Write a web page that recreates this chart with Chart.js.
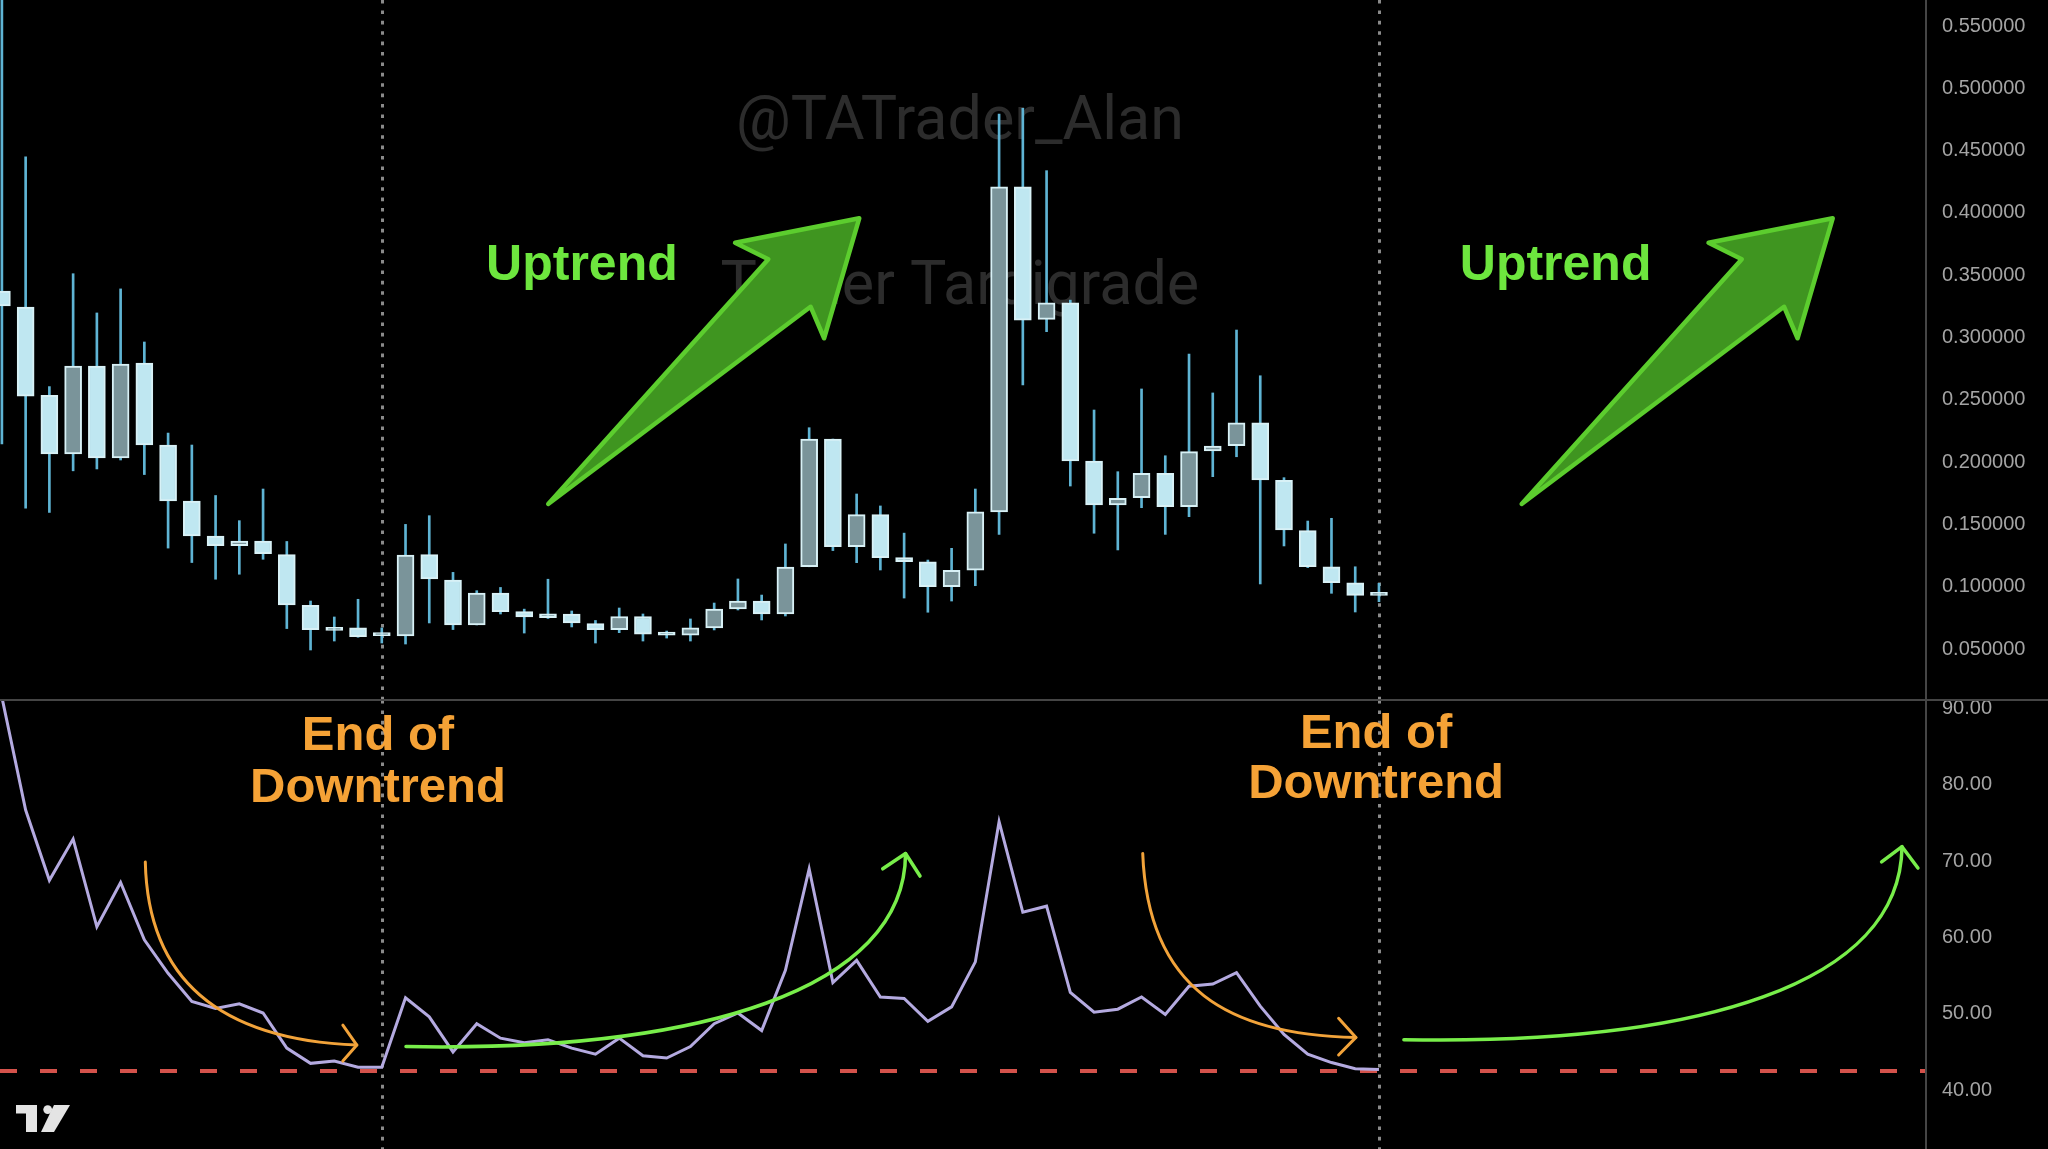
<!DOCTYPE html>
<html>
<head>
<meta charset="utf-8">
<script src="https://cdn.jsdelivr.net/npm/chart.js@4.4.1/dist/chart.umd.min.js"></script>
<style>
  html, body { margin:0; padding:0; background:#000; overflow:hidden; }
  #wrap { position:relative; width:2048px; height:1149px; background:#000; }
  #pricePane { position:absolute; left:0; top:0; width:2048px; height:700px; }
  #rsiPane { position:absolute; left:0; top:700px; width:2048px; height:449px; }
  .sep { position:absolute; left:0; top:699px; width:2048px; height:2px; background:#454545; }
  .axisLine { position:absolute; left:1925px; top:0; width:2px; height:1149px; background:#454545; }
</style>
</head>
<body>
<div id="wrap">
  <div id="pricePane"><canvas id="priceChart" width="2048" height="700"></canvas></div>
  <div id="rsiPane"><canvas id="rsiChart" width="2048" height="449"></canvas></div>
  <div class="sep"></div>
  <div class="axisLine"></div>
</div>
<script>
'use strict';

// --- candles, one entry per bar (index = position) ---
const opens  = [0.3373,0.3245,0.2535,0.2065,0.2770,0.2033,0.2795,0.2137,0.1688,0.1407,
                0.1330,0.1367,0.1258,0.0850,0.0671,0.0669,0.0612,0.0604,0.1258,0.1054,
                0.0693,0.0949,0.0800,0.0783,0.0781,0.0704,0.0656,0.0761,0.0628,0.0612,
                0.0669,0.0821,0.0885,0.0781,0.1160,0.2185,0.1321,0.1578,0.1233,0.1200,
                0.1000,0.1132,0.1600,0.4210,0.3146,0.3279,0.2009,0.1656,0.1714,0.1910,
                0.1642,0.2089,0.2132,0.2316,0.1854,0.1450,0.1160,0.1032,0.0935];
const highs  = [0.6000,0.4450,0.2606,0.3512,0.3197,0.3390,0.2964,0.2233,0.2137,0.1732,
                0.1530,0.1784,0.1363,0.0885,0.0757,0.0899,0.0669,0.1500,0.1570,0.1115,
                0.0968,0.0994,0.0820,0.1060,0.0805,0.0729,0.0829,0.0781,0.0644,0.0741,
                0.0869,0.1062,0.0933,0.1343,0.2276,0.2185,0.1744,0.1648,0.1430,0.1214,
                0.1308,0.1784,0.4794,0.4840,0.4339,0.3300,0.2418,0.1923,0.2587,0.2051,
                0.2867,0.2555,0.3060,0.2693,0.1875,0.1527,0.1549,0.1160,0.1027];
const lows   = [0.2145,0.1630,0.1596,0.1930,0.1945,0.2017,0.1900,0.1310,0.1194,0.1060,
                0.1100,0.1220,0.0664,0.0492,0.0564,0.0594,0.0548,0.0540,0.0709,0.0656,
                0.0693,0.0781,0.0628,0.0745,0.0677,0.0548,0.0631,0.0564,0.0588,0.0564,
                0.0653,0.0813,0.0733,0.0765,0.1160,0.1290,0.1193,0.1134,0.0909,0.0795,
                0.0885,0.1008,0.1420,0.2619,0.3047,0.1808,0.1429,0.1295,0.1634,0.1420,
                0.1562,0.1883,0.2043,0.1022,0.1327,0.1153,0.0947,0.0797,0.0880];
const closes = [0.3253,0.2530,0.2065,0.2771,0.2033,0.2787,0.2137,0.1688,0.1407,0.1330,
                0.1367,0.1266,0.0853,0.0656,0.0650,0.0598,0.0607,0.1254,0.1062,0.0693,
                0.0949,0.0800,0.0757,0.0751,0.0709,0.0656,0.0761,0.0620,0.0612,0.0669,
                0.0821,0.0885,0.0781,0.1158,0.2185,0.1321,0.1578,0.1233,0.1200,0.1000,
                0.1132,0.1600,0.4210,0.3140,0.3279,0.2009,0.1656,0.1709,0.1910,0.1642,
                0.2084,0.2129,0.2316,0.1856,0.1455,0.1160,0.1032,0.0931,0.0930];

// --- RSI, same bars ---
const rsiValues = [91.5,76.7,67.5,72.9,61.4,67.2,59.7,55.3,51.6,50.7,
                   51.3,50.1,45.5,43.5,43.8,43.0,43.0,52.1,49.6,45.0,
                   48.7,46.8,46.2,46.6,45.5,44.7,46.8,44.5,44.2,45.7,
                   48.7,50.1,47.8,55.7,69.0,54.1,57.0,52.2,52.0,49.0,
                   50.9,56.8,75.2,63.3,64.1,52.8,50.2,50.6,52.2,49.9,
                   53.6,53.9,55.4,51.0,47.3,44.7,43.6,42.8,42.7];
const rsiFloor = 42.5;

const priceTicks = [0.05,0.10,0.15,0.20,0.25,0.30,0.35,0.40,0.45,0.50,0.55];
const rsiTicks   = [40,50,60,70,80,90];

// bars marked with the dotted verticals
const markerBars = [16, 58];

// annotations, in data units (bar index, price / rsi)
const watermarks = [
  { text:'@TATrader_Alan',     x:40.35, y:0.4595 },
  { text:'Trader Tardigrade',  x:40.35, y:0.3265 },
];
const uptrendLabels = [
  { text:'Uptrend', x:24.43, y:0.3461 },
  { text:'Uptrend', x:65.44, y:0.3461 },
];
const bigArrow = [[23.01,0.1664],[32.28,0.3628],[30.88,0.3761],[36.11,0.3957],[34.63,0.2994],[34.06,0.3247]];
const bigArrowShifts = [0, 41];

const downLabels = [
  { x:15.84, lines:[['End of',84.57],['Downtrend',77.76]] },
  { x:57.88, lines:[['End of',84.83],['Downtrend',78.28]] },
];
// cubic curves: start, ctrl1, ctrl2, end, then the two head wings
const orangeCurves = [
  [[6.04,69.9],[6.15,54.4],[9.18,46.6],[14.95,45.9],[14.36,48.5],[14.36,43.8]],
  [[48.05,71.0],[48.27,53.1],[51.73,47.2],[57.03,46.9],[56.30,49.4],[56.30,44.6]],
];
const greenCurves = [
  [[17.02,45.7],[29.4,45.0],[38.04,53.1],[38.06,71.0],[37.10,69.0],[38.67,68.05]],
  [[59.05,46.6],[71.5,45.9],[79.95,53.8],[80.03,71.9],[79.17,69.9],[80.70,69.1]],
];

const X_MIN = -0.08, X_MAX = 81.04;

function drawMarkers(chart) {
  const { ctx, chartArea:a, scales:{ x } } = chart;
  ctx.save();
  ctx.strokeStyle = '#8a8a8a';
  ctx.lineWidth = 3;
  ctx.setLineDash([3.6, 6.8]);
  markerBars.forEach(b => {
    const px = Math.round(x.getPixelForValue(b)) + 0.5;
    ctx.beginPath(); ctx.moveTo(px, a.top); ctx.lineTo(px, a.bottom); ctx.stroke();
  });
  ctx.restore();
}

const pricePlugin = {
  id: 'priceDecor',
  beforeDatasetsDraw(chart) {
    const { ctx, scales:{ x, y } } = chart;
    ctx.save();
    ctx.fillStyle = '#2c2c2c';
    ctx.font = '400 61px Roboto';
    ctx.textAlign = 'center';
    ctx.textBaseline = 'alphabetic';
    watermarks.forEach(w => ctx.fillText(w.text, x.getPixelForValue(w.x), y.getPixelForValue(w.y)));
    ctx.restore();
    drawMarkers(chart);
  },
  afterDatasetsDraw(chart) {
    const { ctx, scales:{ x, y } } = chart;
    ctx.save();
    bigArrowShifts.forEach(dx => {
      ctx.beginPath();
      bigArrow.forEach(([bx, by], i) => {
        const px = x.getPixelForValue(bx + dx), py = y.getPixelForValue(by);
        if (i === 0) ctx.moveTo(px, py); else ctx.lineTo(px, py);
      });
      ctx.closePath();
      ctx.fillStyle = '#3f9520';
      ctx.fill();
      ctx.lineJoin = 'round';
      ctx.lineWidth = 4.5;
      ctx.strokeStyle = '#5ccd2e';
      ctx.stroke();
    });
    ctx.fillStyle = '#6de63e';
    ctx.font = 'bold 50px "Liberation Sans", Arial';
    ctx.textAlign = 'center';
    uptrendLabels.forEach(l => ctx.fillText(l.text, x.getPixelForValue(l.x), y.getPixelForValue(l.y)));
    ctx.restore();
  }
};

function strokeCurve(ctx, x, y, c, color, width) {
  const p = c.map(([a, b]) => [x.getPixelForValue(a), y.getPixelForValue(b)]);
  ctx.strokeStyle = color;
  ctx.lineWidth = width;
  ctx.lineCap = 'round';
  ctx.lineJoin = 'round';
  ctx.beginPath();
  ctx.moveTo(p[0][0], p[0][1]);
  ctx.bezierCurveTo(p[1][0], p[1][1], p[2][0], p[2][1], p[3][0], p[3][1]);
  ctx.stroke();
  ctx.beginPath();
  ctx.moveTo(p[4][0], p[4][1]);
  ctx.lineTo(p[3][0], p[3][1]);
  ctx.lineTo(p[5][0], p[5][1]);
  ctx.stroke();
}

function drawLogo(ctx, left, bottom) {
  const ox = left + 16, oy = bottom - 44;
  ctx.fillStyle = '#e4e4e4';
  ctx.fillRect(ox, oy, 21, 8.5);
  ctx.fillRect(ox + 10, oy, 11, 27);
  ctx.beginPath(); ctx.arc(ox + 31.7, oy + 4.6, 4.4, 0, Math.PI * 2); ctx.fill();
  ctx.beginPath();
  ctx.moveTo(ox + 38, oy); ctx.lineTo(ox + 54, oy);
  ctx.lineTo(ox + 38, oy + 27); ctx.lineTo(ox + 25, oy + 27);
  ctx.closePath(); ctx.fill();
}

const rsiPlugin = {
  id: 'rsiDecor',
  beforeDatasetsDraw(chart) { drawMarkers(chart); },
  afterDatasetsDraw(chart) {
    const { ctx, chartArea:a, scales:{ x, y } } = chart;
    ctx.save();
    orangeCurves.forEach(c => strokeCurve(ctx, x, y, c, '#f2a33a', 3));
    greenCurves.forEach(c => strokeCurve(ctx, x, y, c, '#78ee4a', 3.5));
    ctx.fillStyle = '#f5a236';
    ctx.font = 'bold 49px "Liberation Sans", Arial';
    ctx.textAlign = 'center';
    downLabels.forEach(l => l.lines.forEach(([t, v]) =>
      ctx.fillText(t, x.getPixelForValue(l.x), y.getPixelForValue(v))));
    drawLogo(ctx, a.left, a.bottom);
    ctx.restore();
  }
};

const axisTicks = {
  color: '#a4a4a4',
  font: { family: '"Liberation Sans", Arial', size: 20 },
  padding: 16,
};

// right axis: fixed width, no extra padding so the plot fills the pane height
const fitAxis = s => { s.width = 122; s.paddingTop = 0; s.paddingBottom = 0; };

const xAxis = { type:'linear', min:X_MIN, max:X_MAX, display:false, offset:false };

new Chart(document.getElementById('priceChart'), {
  type: 'bar',
  data: {
    datasets: [
      {
        label: 'wick',
        data: lows.map((l, i) => ({ x:i, y:[l, highs[i]] })),
        backgroundColor: '#5fb4d4',
        barThickness: 2,
        grouped: false,
        order: 2,
      },
      {
        label: 'body',
        data: opens.map((o, i) => ({ x:i, y:[o, closes[i]] })),
        backgroundColor: opens.map((o, i) => closes[i] > o ? '#7a949a' : '#bfe7f1'),
        borderColor: '#d8f1f6',
        borderWidth: 2,
        borderSkipped: false,
        barThickness: 17,
        minBarLength: 3,
        grouped: false,
        order: 1,
      },
    ]
  },
  options: {
    responsive: false, animation: false, devicePixelRatio: 1,
    layout: { padding: 0, autoPadding: false },
    plugins: { legend:{ display:false }, tooltip:{ enabled:false } },
    scales: {
      x: xAxis,
      y: {
        position: 'right', min: 0.00907, max: 0.57087,
        afterFit: fitAxis,
        afterBuildTicks: s => { s.ticks = priceTicks.map(v => ({ value:v })); },
        grid: { display:false, drawTicks:false },
        border: { display:false },
        ticks: { ...axisTicks, callback: v => Number(v).toFixed(6) },
      }
    }
  },
  plugins: [pricePlugin]
});

new Chart(document.getElementById('rsiChart'), {
  type: 'line',
  data: {
    datasets: [
      {
        label: 'RSI',
        data: rsiValues.map((v, i) => ({ x:i, y:v })),
        borderColor: '#b4aae0',
        borderWidth: 3,
        pointRadius: 0,
        tension: 0,
        order: 1,
      },
      {
        label: 'floor',
        data: [{ x:X_MIN, y:rsiFloor }, { x:X_MAX, y:rsiFloor }],
        borderColor: '#d4524b',
        borderWidth: 4,
        borderDash: [17, 23],
        pointRadius: 0,
        order: 2,
      },
    ]
  },
  options: {
    responsive: false, animation: false, devicePixelRatio: 1,
    layout: { padding: 0, autoPadding: false },
    plugins: { legend:{ display:false }, tooltip:{ enabled:false } },
    scales: {
      x: xAxis,
      y: {
        position: 'right', min: 32.27, max: 91.13,
        afterFit: fitAxis,
        afterBuildTicks: s => { s.ticks = rsiTicks.map(v => ({ value:v })); },
        grid: { display:false, drawTicks:false },
        border: { display:false },
        ticks: { ...axisTicks, callback: v => Number(v).toFixed(2) },
      }
    }
  },
  plugins: [rsiPlugin]
});
</script>
</body>
</html>
